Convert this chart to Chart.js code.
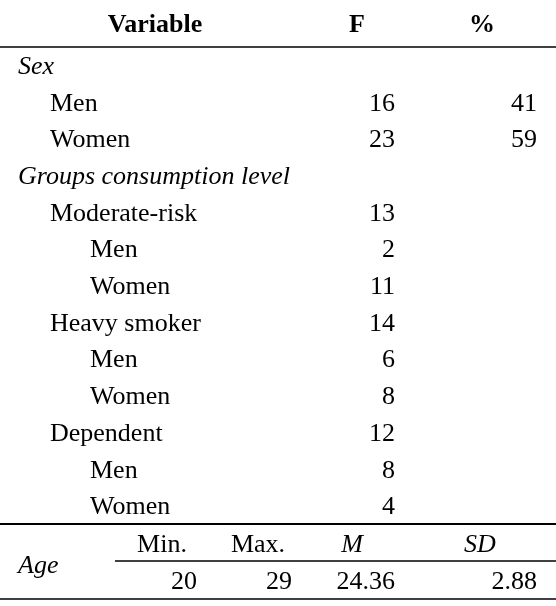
<!DOCTYPE html>
<html><head><meta charset="utf-8">
<script src="https://cdn.jsdelivr.net/npm/chart.js@4/dist/chart.umd.min.js"></script>
<style>html,body{margin:0;padding:0;background:#fff;font-family:"Liberation Serif","Times New Roman",serif}#c{display:block}</style>
</head><body>
<div style="width:556px;height:606px"><canvas id="c"></canvas></div>
<script>
const headers = ["Variable", "F", "%"];
const rowLabels = ["Sex","Men","Women","Groups consumption level","Moderate-risk","Men","Women","Heavy smoker","Men","Women","Dependent","Men","Women"];
const rowLevels = [0,1,1,0,1,2,2,1,2,2,1,2,2];
const rowItalic = [true,false,false,true,false,false,false,false,false,false,false,false,false];
const freqValues = [null,16,23,null,13,2,11,14,6,8,12,8,4];
const pctValues = [null,41,59,null,null,null,null,null,null,null,null,null,null];
const ageLabel = "Age";
const ageHeaders = ["Min.","Max.","M","SD"];
const ageValues = ["20","29","24.36","2.88"];

const tablePlugin = {
  id:'table',
  afterDraw(chart){
    const ctx = chart.ctx;
    ctx.save();
    ctx.fillStyle='#000'; ctx.strokeStyle='#000';
    const F = '"Liberation Serif", "Times New Roman", serif';
    const S = '26px ';
    ctx.textBaseline='middle';
    ctx.font = 'bold '+S+F;
    ctx.textAlign='center';
    ctx.fillText(headers[0],155,25);
    ctx.fillText(headers[1],357,25);
    ctx.fillText(headers[2],482,25);
    const line=(x1,y,x2,w)=>{ctx.lineWidth=w;ctx.beginPath();ctx.moveTo(x1,y);ctx.lineTo(x2,y);ctx.stroke();};
    line(0,47,556,1.5);
    const indent=[18,50,90];
    rowLabels.forEach((lab,i)=>{
      const y = 67 + i*36.7;
      ctx.font=(rowItalic[i]?'italic ':'')+S+F;
      ctx.textAlign='left';
      ctx.fillText(lab,indent[rowLevels[i]],y);
      ctx.font=S+F;
      ctx.textAlign='right';
      if(freqValues[i]!==null) ctx.fillText(String(freqValues[i]),395,y);
      if(pctValues[i]!==null) ctx.fillText(String(pctValues[i]),537,y);
    });
    line(0,524,556,2);
    ctx.font='italic '+S+F; ctx.textAlign='left';
    ctx.fillText(ageLabel,18,566);
    ctx.textAlign='center';
    ctx.font=S+F;
    ctx.fillText(ageHeaders[0],162,545);
    ctx.fillText(ageHeaders[1],258,545);
    ctx.font='italic '+S+F;
    ctx.fillText(ageHeaders[2],352,545);
    ctx.fillText(ageHeaders[3],480,545);
    line(115,561,556,1.5);
    ctx.font=S+F; ctx.textAlign='right';
    const xs=[197,292,395,537];
    ageValues.forEach((v,i)=>ctx.fillText(v,xs[i],582));
    line(0,599,556,1.5);
    ctx.restore();
  }
};
new Chart(document.getElementById('c'),{
  type:'bar',
  data:{labels:rowLabels,datasets:[{data:freqValues,backgroundColor:'rgba(0,0,0,0)'}]},
  options:{responsive:true,maintainAspectRatio:false,animation:false,
    plugins:{legend:{display:false},tooltip:{enabled:false}},
    scales:{x:{display:false},y:{display:false}}},
  plugins:[tablePlugin]
});
</script>
</body></html>
